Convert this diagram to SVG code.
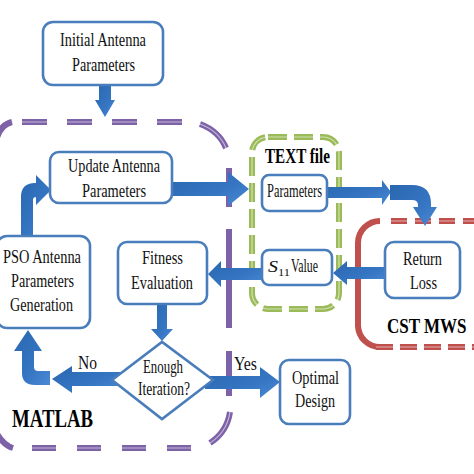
<svg xmlns="http://www.w3.org/2000/svg" width="474" height="474" viewBox="0 0 474 474">
<defs>
<linearGradient id="ag" x1="0" y1="0" x2="1" y2="1">
<stop offset="0" stop-color="#2a67b0"/>
<stop offset="0.6" stop-color="#3575c2"/>
<stop offset="1" stop-color="#4a8ad4"/>
</linearGradient>
<style>
.box{fill:#fff;stroke:#4a7dbb;stroke-width:2.6}
.ar{fill:url(#ag);stroke:none}
.t{font-family:"Liberation Serif","Times New Roman",serif;font-size:18px;fill:#111}
.b{font-family:"Liberation Serif","Times New Roman",serif;font-weight:bold;fill:#000}
.pu{fill:none;stroke:#7d62a8;stroke-width:6}
.gr{fill:none;stroke:#9bbb59;stroke-width:6}
.rd{fill:none;stroke:#c0504d;stroke-width:6}
.hl{fill:none;stroke:#ffffff;stroke-opacity:0.55;stroke-width:1.2}
</style>
</defs>
<rect width="474" height="474" fill="#fff"/>

<g id="matlab-border">
<path class="pu" d="M-4,142 Q-1,125 12,122"/>
<path class="pu" d="M22,122 L183,122" stroke-dasharray="25 20"/>
<path class="pu" d="M200,124 Q219,131 226,148"/>
<path class="pu" d="M229,168 L229,207"/>
<path class="pu" d="M229,229 L229,328"/>
<path class="pu" d="M229,351 L229,396"/>
<path class="pu" d="M230,412 Q227,432 210,443"/>
<path class="pu" d="M32,448 L193,448" stroke-dasharray="24 21"/>
<path class="pu" d="M-4,432 Q3,445 13,448"/>
<path class="hl" d="M22,122 L183,122" stroke-dasharray="25 20"/>
<path class="hl" d="M32,448 L193,448" stroke-dasharray="24 21"/>
<path class="hl" d="M200,124 Q219,131 226,148"/>
<path class="hl" d="M230,412 Q227,432 210,443"/>
</g>
<g id="textfile-border">
<rect class="gr" x="252" y="137" width="87" height="172" rx="16" stroke-dasharray="19 7"/>
<rect class="hl" x="252" y="137" width="87" height="172" rx="16" stroke-dasharray="19 7"/>
</g>
<g id="cst-border">
<path class="rd" d="M380,221 A22 22 0 0 0 358,243 L358,326 A22 22 0 0 0 380,347"/>
<path class="rd" d="M391,221 L474,221" stroke-dasharray="16 8"/>
<path class="rd" d="M376,347 L474,347" stroke-dasharray="17 7"/>
<path class="hl" d="M391,221 L474,221" stroke-dasharray="16 8"/>
<path class="hl" d="M376,347 L474,347" stroke-dasharray="17 7"/>
</g>

<g id="connectors">
<polygon class="ar" points="99,85 111,85 111,100 115,100 105,117 95,100 99,100"/>
<polygon class="ar" points="172,182 228,182 228,172 249,189 228,206 228,196 172,196"/>
<polygon class="ar" points="327,187 382,187 382,180 391,192 382,205 382,198 327,198"/>
<path class="ar" d="M390,185 L412,185 Q431,185 431,204 L431,207 L437,207 L425,226 L413,207 L418,207 L418,205 Q418,200 412,200 L390,200 Z"/>
<polygon class="ar" points="385,267 347,267 347,261 333,273 347,285 347,279 385,279"/>
<polygon class="ar" points="262,268 221,268 221,261 208,274 221,287 221,280 262,280"/>
<polygon class="ar" points="157,304 167,304 167,329 173,329 162,341 151,329 157,329"/>
<polygon class="ar" points="120,372 72,372 72,366 52,379 72,393 72,386 120,386"/>
<path class="ar" d="M50,371 L38,371 Q34,371 34,367 L34,351 L42,351 L28,330 L14,351 L22,351 L22,373 Q22,385 35,385 L50,385 Z"/>
<path class="ar" d="M21,236 L21,197 Q21,183 35,183 L36,183 L36,175 L51,190 L36,205 L36,197 Q33,197 33,200 L33,236 Z"/>
<polygon class="ar" points="205,376 260,376 260,367 280,382 260,398 260,389 205,389"/>
</g>

<g id="initial">
<rect class="box" x="43" y="22" width="120" height="63" rx="10"/>
<text class="t" x="60" y="46" textLength="86" lengthAdjust="spacingAndGlyphs">Initial Antenna</text>
<text class="t" x="72" y="71" textLength="63" lengthAdjust="spacingAndGlyphs">Parameters</text>
</g>
<g id="update">
<rect class="box" x="50" y="152" width="122" height="51" rx="9"/>
<text class="t" x="68" y="172" textLength="92" lengthAdjust="spacingAndGlyphs">Update Antenna</text>
<text class="t" x="82" y="197" textLength="64" lengthAdjust="spacingAndGlyphs">Parameters</text>
</g>
<g id="textfile">
<text class="b" x="265" y="163" font-size="20" textLength="65" lengthAdjust="spacingAndGlyphs">TEXT file</text>
</g>
<g id="parameters">
<rect class="box" x="262" y="175" width="65" height="36" rx="7"/>
<text class="t" x="267" y="197" font-size="16" textLength="55" lengthAdjust="spacingAndGlyphs">Parameters</text>
</g>
<g id="pso">
<rect class="box" x="-3" y="236" width="93" height="92" rx="10"/>
<text class="t" x="3" y="263" textLength="78" lengthAdjust="spacingAndGlyphs">PSO Antenna</text>
<text class="t" x="11" y="287" textLength="63" lengthAdjust="spacingAndGlyphs">Parameters</text>
<text class="t" x="10" y="311" textLength="63" lengthAdjust="spacingAndGlyphs">Generation</text>
</g>
<g id="fitness">
<rect class="box" x="118" y="242" width="89" height="62" rx="9"/>
<text class="t" x="142" y="264" textLength="41" lengthAdjust="spacingAndGlyphs">Fitness</text>
<text class="t" x="131" y="289" textLength="62" lengthAdjust="spacingAndGlyphs">Evaluation</text>
</g>
<g id="s11">
<rect class="box" x="262" y="250" width="70" height="35" rx="7"/>
<text class="t" x="290" y="272" font-size="15" text-anchor="end" textLength="22" lengthAdjust="spacingAndGlyphs"><tspan font-style="italic" font-size="16">S</tspan><tspan font-size="10" dy="4">11</tspan></text>
<text class="t" x="291" y="272" font-size="15" textLength="27" lengthAdjust="spacingAndGlyphs">Value</text>
</g>
<g id="returnloss">
<rect class="box" x="385" y="242" width="75" height="56" rx="9"/>
<text class="t" x="403" y="265" font-size="16" textLength="39" lengthAdjust="spacingAndGlyphs">Return</text>
<text class="t" x="410" y="289" font-size="16" textLength="27" lengthAdjust="spacingAndGlyphs">Loss</text>
</g>
<g id="cst-label">
<text class="b" transform="translate(387,333) scale(0.81,1)" x="0" y="0" font-size="21">CST MWS</text>
</g>
<g id="decision">
<polygon class="box" points="112,380 162,342 213,380 162,419"/>
<text class="t" x="143" y="373" textLength="40" lengthAdjust="spacingAndGlyphs">Enough</text>
<text class="t" x="138" y="395" textLength="52" lengthAdjust="spacingAndGlyphs">Iteration?</text>
</g>
<g id="labels">
<text class="t" x="78" y="369" font-size="16" textLength="19" lengthAdjust="spacingAndGlyphs">No</text>
<text class="t" x="234" y="370" font-size="16" textLength="23" lengthAdjust="spacingAndGlyphs">Yes</text>
</g>
<g id="optimal">
<rect class="box" x="280" y="360" width="70" height="64" rx="9"/>
<text class="t" x="292" y="384" font-size="17" textLength="47" lengthAdjust="spacingAndGlyphs">Optimal</text>
<text class="t" x="295" y="407" font-size="17" textLength="40" lengthAdjust="spacingAndGlyphs">Design</text>
</g>
<g id="matlab-label">
<text class="b" x="12" y="427" font-size="25" textLength="81" lengthAdjust="spacingAndGlyphs">MATLAB</text>
</g>
</svg>
